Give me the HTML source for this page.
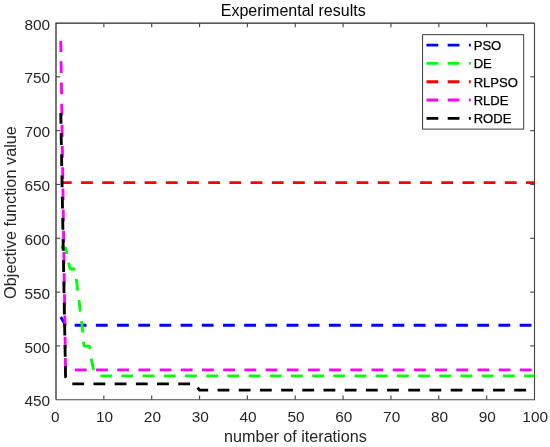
<!DOCTYPE html>
<html><head><meta charset="utf-8"><title>Experimental results</title>
<style>html,body{margin:0;padding:0;background:#fff}svg{display:block}</style></head>
<body>
<svg width="550" height="447" viewBox="0 0 550 447" style="display:block;font-family:'Liberation Sans', Arial, Helvetica, sans-serif">
<rect x="0" y="0" width="550" height="447" fill="#ffffff"/>
<g stroke="#262626" stroke-width="1.25" fill="none">
<path d="M56.0,399.75 V23.0 H534.5"/>
</g>
<g stroke="#484848" stroke-width="1.15" fill="none">
<path d="M56.0,399.75 H534.5 V23.0"/>
<line x1="103.85" y1="399.75" x2="103.85" y2="395.55"/>
<line x1="103.85" y1="23.0" x2="103.85" y2="27.2"/>
<line x1="151.70" y1="399.75" x2="151.70" y2="395.55"/>
<line x1="151.70" y1="23.0" x2="151.70" y2="27.2"/>
<line x1="199.55" y1="399.75" x2="199.55" y2="395.55"/>
<line x1="199.55" y1="23.0" x2="199.55" y2="27.2"/>
<line x1="247.40" y1="399.75" x2="247.40" y2="395.55"/>
<line x1="247.40" y1="23.0" x2="247.40" y2="27.2"/>
<line x1="295.25" y1="399.75" x2="295.25" y2="395.55"/>
<line x1="295.25" y1="23.0" x2="295.25" y2="27.2"/>
<line x1="343.10" y1="399.75" x2="343.10" y2="395.55"/>
<line x1="343.10" y1="23.0" x2="343.10" y2="27.2"/>
<line x1="390.95" y1="399.75" x2="390.95" y2="395.55"/>
<line x1="390.95" y1="23.0" x2="390.95" y2="27.2"/>
<line x1="438.80" y1="399.75" x2="438.80" y2="395.55"/>
<line x1="438.80" y1="23.0" x2="438.80" y2="27.2"/>
<line x1="486.65" y1="399.75" x2="486.65" y2="395.55"/>
<line x1="486.65" y1="23.0" x2="486.65" y2="27.2"/>
<line x1="56.0" y1="345.93" x2="60.2" y2="345.93"/>
<line x1="534.5" y1="345.93" x2="530.3" y2="345.93"/>
<line x1="56.0" y1="292.11" x2="60.2" y2="292.11"/>
<line x1="534.5" y1="292.11" x2="530.3" y2="292.11"/>
<line x1="56.0" y1="238.29" x2="60.2" y2="238.29"/>
<line x1="534.5" y1="238.29" x2="530.3" y2="238.29"/>
<line x1="56.0" y1="184.46" x2="60.2" y2="184.46"/>
<line x1="534.5" y1="184.46" x2="530.3" y2="184.46"/>
<line x1="56.0" y1="130.64" x2="60.2" y2="130.64"/>
<line x1="534.5" y1="130.64" x2="530.3" y2="130.64"/>
<line x1="56.0" y1="76.82" x2="60.2" y2="76.82"/>
<line x1="534.5" y1="76.82" x2="530.3" y2="76.82"/>
</g>
<g fill="#262626" font-size="15.4px">
<text x="55.40" y="421.5" text-anchor="middle">0</text>
<text x="104.55" y="421.5" text-anchor="middle">10</text>
<text x="152.40" y="421.5" text-anchor="middle">20</text>
<text x="200.25" y="421.5" text-anchor="middle">30</text>
<text x="248.10" y="421.5" text-anchor="middle">40</text>
<text x="295.95" y="421.5" text-anchor="middle">50</text>
<text x="343.80" y="421.5" text-anchor="middle">60</text>
<text x="391.65" y="421.5" text-anchor="middle">70</text>
<text x="439.50" y="421.5" text-anchor="middle">80</text>
<text x="487.35" y="421.5" text-anchor="middle">90</text>
<text x="535.20" y="421.5" text-anchor="middle">100</text>
<text x="50.1" y="406.35" text-anchor="end">450</text>
<text x="50.1" y="352.53" text-anchor="end">500</text>
<text x="50.1" y="298.71" text-anchor="end">550</text>
<text x="50.1" y="244.89" text-anchor="end">600</text>
<text x="50.1" y="191.06" text-anchor="end">650</text>
<text x="50.1" y="137.24" text-anchor="end">700</text>
<text x="50.1" y="83.42" text-anchor="end">750</text>
<text x="50.1" y="29.60" text-anchor="end">800</text>
</g>
<text x="295.4" y="441.7" text-anchor="middle" font-size="16.15px" fill="#262626">number of iterations</text>
<text transform="translate(16.4,212.5) rotate(-90)" text-anchor="middle" font-size="16.3px" fill="#262626">Objective function value</text>
<text x="293.2" y="15.5" text-anchor="middle" font-size="16px" fill="#000">Experimental results</text>
<g fill="none" stroke-width="2.85" stroke-linejoin="round" stroke-linecap="butt" stroke-dasharray="11.8 9.39">
<path d="M60.78,317.00 L65.57,325.20 L534.50,325.20" stroke="#0000ff" stroke-dashoffset="2.59" />
<g stroke="#00ff00" stroke-dasharray="none">
<path d="M60.8,247 L65.5,248.2 L66.9,254"/>
<path d="M68.6,262.6 L70.2,269 L75.3,269"/>
<path d="M76.35,279 L77.8,290.6"/>
<path d="M79.0,300 L80.3,311.6"/>
<path d="M81.5,321.1 L82.9,332.7"/>
<path d="M83.3,341.8 L84.2,346.0 L89.4,346.1 L90.3,349.0"/>
<path d="M91.2,358.6 L93.6,370"/>
</g>
<path d="M100.30,375.80 L534.50,375.80" stroke="#00ff00" stroke-dashoffset="0" />
<path d="M60.78,182.55 L534.50,182.55" stroke="#ff0000" stroke-dashoffset="0.89" />
<path d="M60.78,41.00 L65.57,369.80 L534.50,369.80" stroke="#ff00ff" stroke-dashoffset="0.9" />
<path d="M60.78,113.00 L65.57,377.00 L70.36,383.90 L194.77,383.90 L199.55,390.15 L534.50,390.15" stroke="#000000" stroke-dashoffset="1.07" />
</g>
<rect x="422.6" y="34.7" width="101.1" height="94.4" fill="#fff" stroke="#303030" stroke-width="0.95"/>
<path d="M426.5,45.10 H470.8" stroke="#0000ff" stroke-width="2.85" fill="none" stroke-dasharray="11.8 9.39"/>
<text x="473.7" y="49.90" font-size="13.05px" fill="#000" stroke="#000" stroke-width="0.25">PSO</text>
<path d="M426.5,63.40 H470.8" stroke="#00ff00" stroke-width="2.85" fill="none" stroke-dasharray="11.8 9.39"/>
<text x="473.7" y="68.20" font-size="13.05px" fill="#000" stroke="#000" stroke-width="0.25">DE</text>
<path d="M426.5,81.70 H470.8" stroke="#ff0000" stroke-width="2.85" fill="none" stroke-dasharray="11.8 9.39"/>
<text x="473.7" y="86.50" font-size="13.05px" fill="#000" stroke="#000" stroke-width="0.25">RLPSO</text>
<path d="M426.5,100.00 H470.8" stroke="#ff00ff" stroke-width="2.85" fill="none" stroke-dasharray="11.8 9.39"/>
<text x="473.7" y="104.80" font-size="13.05px" fill="#000" stroke="#000" stroke-width="0.25">RLDE</text>
<path d="M426.5,118.30 H470.8" stroke="#000000" stroke-width="2.85" fill="none" stroke-dasharray="11.8 9.39"/>
<text x="473.7" y="123.10" font-size="13.05px" fill="#000" stroke="#000" stroke-width="0.25">RODE</text>
</svg>
</body></html>
